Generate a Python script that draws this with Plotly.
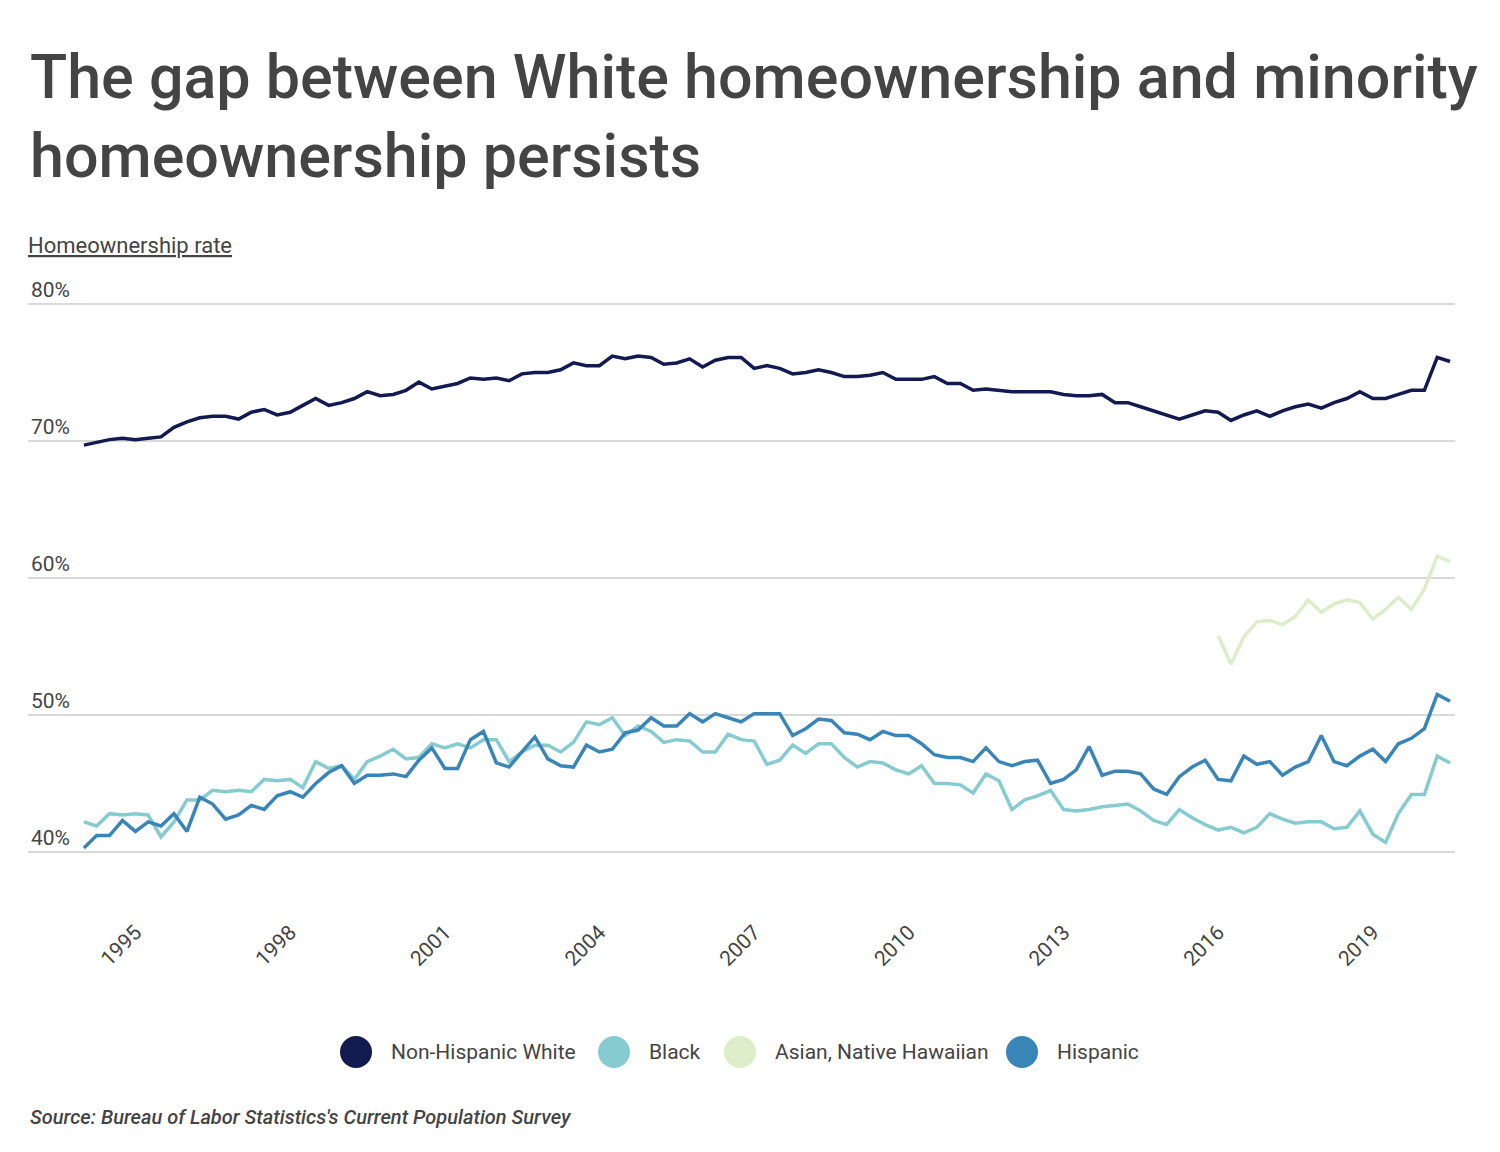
import plotly.graph_objects as go
import pandas as pd

# ---- Data (quarterly, 1994 Q1 - 2020 Q3) ----
quarters = pd.date_range("1994-01-01", periods=107, freq="QS").strftime("%Y-%m-%d").tolist()

series_names = ["Non-Hispanic White", "Black", "Asian, Native Hawaiian", "Hispanic"]
series_colors = ["#131a4f", "#86cbcf", "#deedc9", "#3a85b8"]

white = [
    69.7, 69.9, 70.1, 70.2, 70.1, 70.2, 70.3, 71.0, 71.4, 71.7,
    71.8, 71.8, 71.6, 72.1, 72.3, 71.9, 72.1, 72.6, 73.1, 72.6,
    72.8, 73.1, 73.6, 73.3, 73.4, 73.7, 74.3, 73.8, 74.0, 74.2,
    74.6, 74.5, 74.6, 74.4, 74.9, 75.0, 75.0, 75.2, 75.7, 75.5,
    75.5, 76.2, 76.0, 76.2, 76.1, 75.6, 75.7, 76.0, 75.4, 75.9,
    76.1, 76.1, 75.3, 75.5, 75.3, 74.9, 75.0, 75.2, 75.0, 74.7,
    74.7, 74.8, 75.0, 74.5, 74.5, 74.5, 74.7, 74.2, 74.2, 73.7,
    73.8, 73.7, 73.6, 73.6, 73.6, 73.6, 73.4, 73.3, 73.3, 73.4,
    72.8, 72.8, 72.5, 72.2, 71.9, 71.6, 71.9, 72.2, 72.1, 71.5,
    71.9, 72.2, 71.8, 72.2, 72.5, 72.7, 72.4, 72.8, 73.1, 73.6,
    73.1, 73.1, 73.4, 73.7, 73.7, 76.1, 75.8,
]

black = [
    42.2, 41.9, 42.8, 42.7, 42.8, 42.7, 41.1, 42.2, 43.8, 43.8,
    44.5, 44.4, 44.5, 44.4, 45.3, 45.2, 45.3, 44.7, 46.6, 46.1,
    46.3, 45.3, 46.6, 47.0, 47.5, 46.8, 46.9, 47.9, 47.6, 47.9,
    47.6, 48.2, 48.2, 46.6, 47.3, 47.8, 47.8, 47.3, 48.0, 49.5,
    49.3, 49.8, 48.5, 49.2, 48.8, 48.0, 48.2, 48.1, 47.3, 47.3,
    48.6, 48.2, 48.1, 46.4, 46.7, 47.8, 47.2, 47.9, 47.9, 46.9,
    46.2, 46.6, 46.5, 46.0, 45.7, 46.3, 45.0, 45.0, 44.9, 44.3,
    45.7, 45.2, 43.1, 43.8, 44.1, 44.5, 43.1, 43.0, 43.1, 43.3,
    43.4, 43.5, 43.0, 42.3, 42.0, 43.1, 42.5, 42.0, 41.6, 41.8,
    41.4, 41.8, 42.8, 42.4, 42.1, 42.2, 42.2, 41.7, 41.8, 43.0,
    41.3, 40.7, 42.8, 44.2, 44.2, 47.0, 46.5,
]

hispanic = [
    40.3, 41.2, 41.2, 42.3, 41.5, 42.2, 41.9, 42.8, 41.5, 44.0,
    43.5, 42.4, 42.7, 43.4, 43.1, 44.1, 44.4, 44.0, 45.0, 45.8,
    46.3, 45.0, 45.6, 45.6, 45.7, 45.5, 46.7, 47.6, 46.1, 46.1,
    48.2, 48.8, 46.5, 46.2, 47.3, 48.4, 46.8, 46.3, 46.2, 47.8,
    47.3, 47.5, 48.7, 48.9, 49.8, 49.2, 49.2, 50.1, 49.5, 50.1,
    49.8, 49.5, 50.1, 50.1, 50.1, 48.5, 49.0, 49.7, 49.6, 48.7,
    48.6, 48.2, 48.8, 48.5, 48.5, 47.9, 47.1, 46.9, 46.9, 46.6,
    47.6, 46.6, 46.3, 46.6, 46.7, 45.0, 45.3, 46.0, 47.7, 45.6,
    45.9, 45.9, 45.7, 44.6, 44.2, 45.5, 46.2, 46.7, 45.3, 45.2,
    47.0, 46.4, 46.6, 45.6, 46.2, 46.6, 48.5, 46.6, 46.3, 47.0,
    47.5, 46.6, 47.9, 48.3, 49.0, 51.5, 51.0,
]

# Asian series begins 2016 Q1
asian_start = "2016-01-01"
asian = [
    55.8, 53.7, 55.7, 56.8, 56.9, 56.6, 57.2, 58.4, 57.5, 58.1,
    58.4, 58.2, 57.0, 57.7, 58.6, 57.7, 59.2, 61.6, 61.2,
]

y_ticks = [40, 50, 60, 70, 80]
y_tick_labels = ["40%", "50%", "60%", "70%", "80%"]

title_text = "The gap between White homeownership and minority<br>homeownership persists"
axis_title = "Homeownership rate"
source_text = "Source: Bureau of Labor Statistics's Current Population Survey"

# ---- Layout geometry ----
W, H = 1500, 1152
L, R, T, B = 28, 45, 255, 237
PW, PH = W - L - R, H - T - B
TEXT = "#444444"
FONT = "Roboto"
PX_PER_PCT = 13.7
Y_BOTTOM = 40 - (H - B - 852) / PX_PER_PCT
Y_TOP = 80 + (304 - T) / PX_PER_PCT


def px_x(px):
    return (px - L) / PW


def px_y(py):
    return (H - B - py) / PH


asian_x = quarters[quarters.index(asian_start):]
values = [white, black, asian, hispanic]
xs = [quarters, quarters, asian_x, quarters]

fig = go.Figure()
for name, color, x, y in zip(series_names, series_colors, xs, values):
    fig.add_trace(go.Scatter(
        x=x, y=y, name=name, mode="lines",
        line=dict(color=color, width=3.5),
        showlegend=False,
        hovertemplate="%{x|%Y Q%q}: %{y:.1f}%<extra>" + name + "</extra>",
    ))

# ---- Custom legend (large circles) ----
legend_circle_px = [356, 614, 740, 1022]
legend_y_px = 1052
shapes = []
annotations = []
for name, color, cx in zip(series_names, series_colors, legend_circle_px):
    shapes.append(dict(
        type="circle", xref="paper", yref="paper",
        xsizemode="pixel", ysizemode="pixel",
        xanchor=px_x(cx), yanchor=px_y(legend_y_px),
        x0=-16, x1=16, y0=-16, y1=16,
        fillcolor=color, line=dict(width=0),
    ))
    annotations.append(dict(
        text=name, xref="paper", yref="paper",
        x=px_x(cx + 33), y=px_y(legend_y_px),
        xanchor="left", yanchor="middle", showarrow=False,
        font=dict(family=FONT, size=21, color=TEXT),
    ))

annotations.append(dict(
    text="<u>" + axis_title + "</u>", xref="paper", yref="paper",
    x=px_x(26), y=px_y(246), xanchor="left", yanchor="middle",
    showarrow=False, font=dict(family=FONT, size=22, color=TEXT),
))
annotations.append(dict(
    text="<i>" + source_text + "</i>", xref="paper", yref="paper",
    x=px_x(28), y=px_y(1117), xanchor="left", yanchor="middle",
    showarrow=False, font=dict(family=FONT, size=20, color=TEXT, weight=500),
))

fig.update_layout(
    width=W, height=H,
    margin=dict(l=L, r=R, t=T, b=B),
    paper_bgcolor="white", plot_bgcolor="white",
    title=dict(
        text=title_text, xref="container", yref="container",
        x=30 / W, xanchor="left", y=1 - 98 / H, yanchor="top",
        font=dict(family=FONT, size=61, color=TEXT, weight=500),
    ),
    xaxis=dict(
        type="date", range=["1992-12-01", "2020-08-05"],
        tick0="1995-01-01", dtick="M36", tickformat="%Y",
        tickangle=-45, showgrid=False, zeroline=False, showline=False,
        ticks="", tickfont=dict(family=FONT, size=21, color=TEXT),
    ),
    yaxis=dict(
        range=[Y_BOTTOM, Y_TOP], tickmode="array",
        tickvals=y_ticks, ticktext=y_tick_labels,
        ticklabelposition="inside top", showgrid=True,
        gridcolor="#d9d9d9", gridwidth=2, zeroline=False, showline=False,
        ticks="", tickfont=dict(family=FONT, size=21, color=TEXT),
    ),
    shapes=shapes,
    annotations=annotations,
    showlegend=False,
    font=dict(family=FONT, color=TEXT),
)

fig.write_html("out.html")
